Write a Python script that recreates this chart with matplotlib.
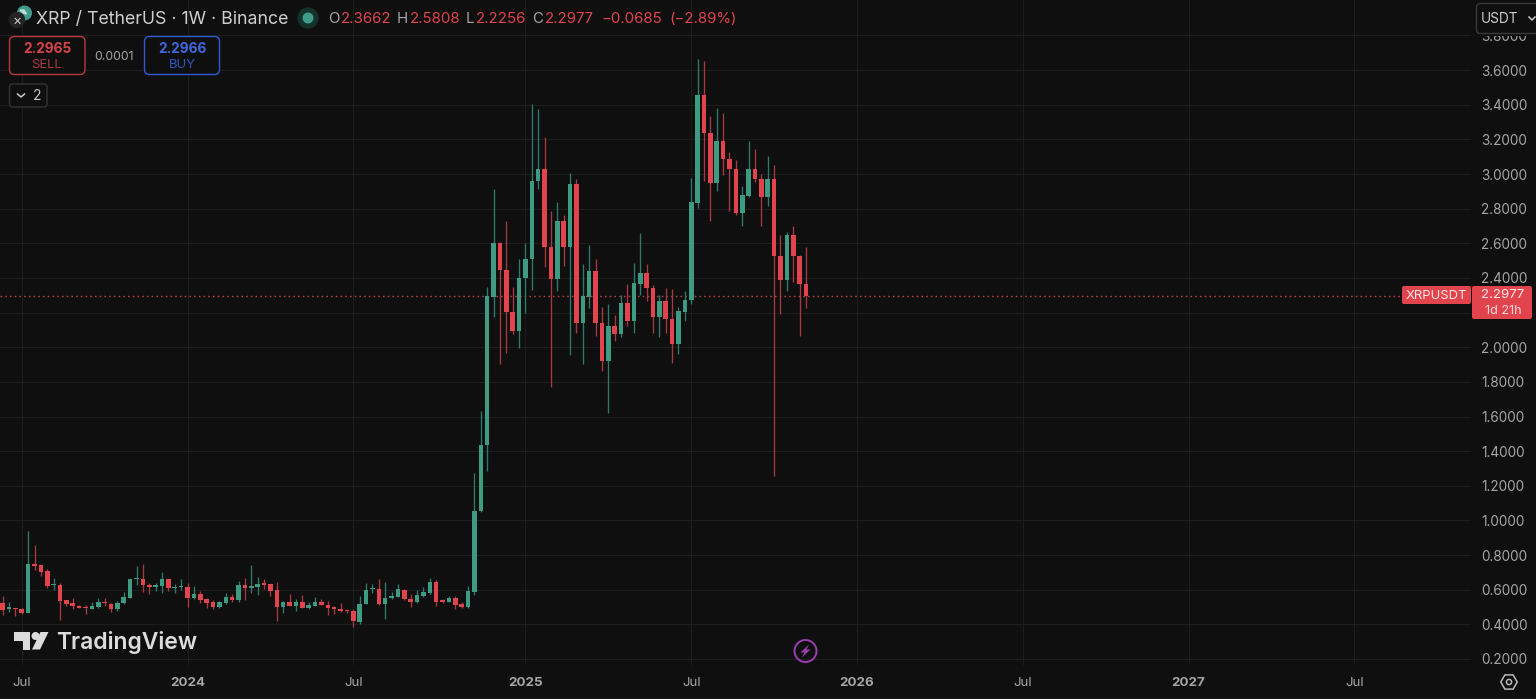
import matplotlib
matplotlib.use("Agg")
import matplotlib.pyplot as plt
import matplotlib.dates as mdates
from matplotlib.patches import Circle, FancyBboxPatch, Polygon, Rectangle, RegularPolygon
import numpy as np
import pandas as pd

plt.rcParams['font.family'] = ['Inter', 'DejaVu Sans']

# weekly candles, XRP / USDT
opens = [0.525, 0.489, 0.494, 0.489, 0.468, 0.748, 0.741, 0.708, 0.625, 0.627,
         0.539, 0.523, 0.506, 0.502, 0.489, 0.498, 0.529, 0.519, 0.487, 0.521,
         0.554, 0.662, 0.662, 0.627, 0.616, 0.621, 0.662, 0.608, 0.614, 0.616,
         0.550, 0.577, 0.546, 0.529, 0.500, 0.523, 0.556, 0.539, 0.625, 0.610,
         0.618, 0.637, 0.631, 0.598, 0.500, 0.527, 0.508, 0.529, 0.496, 0.506,
         0.529, 0.512, 0.502, 0.491, 0.481, 0.477, 0.416, 0.518, 0.602, 0.602,
         0.519, 0.550, 0.560, 0.600, 0.546, 0.527, 0.564, 0.583, 0.645, 0.539,
         0.531, 0.552, 0.518, 0.498, 0.589, 1.054, 1.436, 2.292, 2.604, 2.446,
         2.201, 2.095, 2.400, 2.507, 2.962, 3.027, 2.580, 2.392, 2.731, 2.577,
         2.942, 2.138, 2.292, 2.440, 2.138, 1.922, 2.122, 2.076, 2.253, 2.153,
         2.365, 2.430, 2.344, 2.176, 2.267, 2.165, 2.018, 2.203, 2.273, 2.835,
         3.456, 3.239, 2.946, 3.189, 3.087, 3.027, 2.777, 2.875, 3.029, 2.969,
         2.867, 2.971, 2.529, 2.388, 2.648, 2.527, 2.3662]
highs = [0.566, 0.527, 0.496, 0.493, 0.937, 0.858, 0.743, 0.720, 0.666, 0.637,
         0.541, 0.550, 0.512, 0.512, 0.527, 0.550, 0.550, 0.521, 0.533, 0.585,
         0.662, 0.735, 0.750, 0.639, 0.637, 0.700, 0.664, 0.633, 0.662, 0.639,
         0.623, 0.591, 0.550, 0.541, 0.533, 0.579, 0.575, 0.650, 0.670, 0.743,
         0.671, 0.662, 0.633, 0.643, 0.537, 0.575, 0.544, 0.569, 0.529, 0.556,
         0.544, 0.533, 0.506, 0.523, 0.483, 0.491, 0.566, 0.639, 0.633, 0.660,
         0.643, 0.585, 0.633, 0.602, 0.575, 0.600, 0.614, 0.666, 0.656, 0.546,
         0.566, 0.562, 0.529, 0.621, 1.272, 1.632, 2.350, 2.911, 2.610, 2.729,
         2.350, 2.509, 2.604, 3.404, 3.373, 3.216, 2.788, 2.838, 2.763, 3.004,
         2.969, 2.478, 2.590, 2.509, 2.234, 2.249, 2.186, 2.301, 2.365, 2.488,
         2.659, 2.480, 2.359, 2.301, 2.342, 2.336, 2.232, 2.326, 2.975, 3.664,
         3.651, 3.335, 3.383, 3.354, 3.129, 3.081, 2.931, 3.189, 3.142, 2.998,
         3.102, 3.052, 2.648, 2.663, 2.700, 2.532, 2.5808]
lows = [0.456, 0.473, 0.450, 0.460, 0.464, 0.714, 0.679, 0.610, 0.598, 0.425,
        0.506, 0.487, 0.493, 0.460, 0.487, 0.493, 0.506, 0.473, 0.479, 0.518,
        0.550, 0.629, 0.587, 0.573, 0.595, 0.583, 0.593, 0.581, 0.598, 0.500,
        0.546, 0.525, 0.496, 0.487, 0.496, 0.518, 0.527, 0.531, 0.541, 0.583,
        0.569, 0.604, 0.564, 0.421, 0.468, 0.506, 0.479, 0.494, 0.487, 0.504,
        0.510, 0.454, 0.460, 0.473, 0.464, 0.383, 0.402, 0.516, 0.581, 0.512,
        0.433, 0.548, 0.556, 0.543, 0.502, 0.523, 0.558, 0.575, 0.506, 0.523,
        0.529, 0.487, 0.494, 0.496, 0.570, 1.050, 1.287, 2.176, 1.903, 1.965,
        2.074, 1.997, 2.199, 2.330, 2.913, 2.465, 1.772, 2.324, 2.471, 1.955,
        2.084, 1.903, 2.224, 2.065, 1.863, 1.618, 2.038, 2.061, 2.122, 2.080,
        2.301, 2.269, 2.080, 2.061, 2.084, 1.911, 1.963, 2.151, 2.249, 2.806,
        2.962, 2.729, 2.904, 2.994, 2.786, 2.761, 2.700, 2.867, 2.954, 2.700,
        2.815, 1.257, 2.192, 2.326, 2.378, 2.067, 2.2256]
closes = [0.483, 0.498, 0.489, 0.464, 0.748, 0.739, 0.704, 0.620, 0.633, 0.537,
          0.518, 0.506, 0.496, 0.496, 0.504, 0.527, 0.523, 0.487, 0.523, 0.558,
          0.660, 0.668, 0.625, 0.616, 0.625, 0.662, 0.610, 0.616, 0.621, 0.552,
          0.577, 0.543, 0.525, 0.500, 0.527, 0.556, 0.539, 0.627, 0.610, 0.620,
          0.633, 0.629, 0.593, 0.500, 0.529, 0.508, 0.531, 0.496, 0.510, 0.529,
          0.512, 0.496, 0.489, 0.477, 0.477, 0.417, 0.519, 0.600, 0.610, 0.519,
          0.552, 0.562, 0.602, 0.544, 0.527, 0.569, 0.587, 0.645, 0.531, 0.531,
          0.552, 0.512, 0.498, 0.591, 1.054, 1.436, 2.296, 2.604, 2.446, 2.201,
          2.095, 2.400, 2.507, 2.962, 3.027, 2.580, 2.392, 2.731, 2.577, 2.942,
          2.138, 2.296, 2.440, 2.138, 1.922, 2.122, 2.076, 2.253, 2.153, 2.369,
          2.430, 2.342, 2.176, 2.267, 2.165, 2.018, 2.207, 2.273, 2.838, 3.456,
          3.239, 2.946, 3.189, 3.087, 3.027, 2.773, 2.879, 3.029, 2.969, 2.867,
          2.971, 2.529, 2.388, 2.648, 2.527, 2.365, 2.2977]

last_week = '2025-11-10'
price_ticks = [0.2, 0.4, 0.6, 0.8, 1.0, 1.2, 1.4, 1.6, 1.8, 2.0,
               2.2, 2.4, 2.6, 2.8, 3.0, 3.2, 3.4, 3.6, 3.8]
date_ticks = ['2023-07-03', '2024-01-01', '2024-07-01', '2025-01-06', '2025-07-07',
              '2026-01-05', '2026-07-06', '2027-01-04', '2027-07-05']
date_labels = ['Jul', '2024', 'Jul', '2025', 'Jul', '2026', 'Jul', '2027', 'Jul']

BG = '#0f0f0f'
GRID = '#1c1d1d'
GREEN = '#3f9a82'
GREEN_WICK = '#2f7a68'
RED = '#e2444e'
RED_WICK = '#a63a41'
LABEL = '#a6a6a6'
TITLE = '#cfcfcf'

W, H = 1536, 699
fig = plt.figure(figsize=(W / 100, H / 100), dpi=100, facecolor=BG)

# main chart, pixel box 0..1471 x 0..665
ax = fig.add_axes([0, (H - 665) / H, 1471 / W, 665 / H], facecolor=BG)

weeks = pd.date_range(end=last_week, periods=len(closes), freq='7D')
o = np.array(opens)
c = np.array(closes)
up = c >= o
body_colors = [GREEN if u else RED for u in up]
wick_colors = [GREEN_WICK if u else RED_WICK for u in up]

ax.vlines(weeks, lows, highs, colors=wick_colors, linewidth=0.95, zorder=3)
ax.bar(weeks, np.abs(c - o), bottom=np.minimum(o, c), width=5.0,
       color=body_colors, linewidth=0, zorder=4)

ax.axhline(closes[-1], color='#b33e45', linewidth=1.0, linestyle=(0, (1.2, 2.2)), zorder=2)

# scale: 173.2 px per 1.0 of price, 6.376 px per week
px_per_day = 6.376 / 7
last_num = mdates.date2num(pd.Timestamp(last_week))
ax.set_xlim(last_num - 806 / px_per_day, last_num + (1471 - 806) / px_per_day)
ax.set_ylim(0.2 - 6 / 173.2, 0.2 + 659 / 173.2)

ax.set_yticks(price_ticks)
# 2.2 sits under the last price tag, no label there
ax.set_yticklabels(['' if p == 2.2 else f'{p:.4f}' for p in price_ticks])
ax.yaxis.tick_right()
ax.tick_params(axis='y', length=0, pad=7.5, labelsize=9.8, labelcolor=LABEL)
ax.set_xticks(pd.to_datetime(date_ticks))
ax.set_xticklabels(date_labels)
ax.tick_params(axis='x', length=0, pad=9, labelsize=9.6, labelcolor=LABEL)
for lab in ax.get_xticklabels():
    if lab.get_text() != 'Jul':
        lab.set_fontweight('bold')
ax.grid(True, color=GRID, linewidth=0.8, zorder=0)
ax.set_axisbelow(True)
for s in ax.spines.values():
    s.set_visible(False)

# overlay in picture pixels for the toolbar bits
ui = fig.add_axes([0, 0, 1, 1], facecolor='none')
ui.set_xlim(0, W)
ui.set_ylim(H, 0)
ui.axis('off')


def rbox(x0, y0, x1, y1, edge, fill=BG, lw=1.0, r=5):
    ui.add_patch(FancyBboxPatch((x0 + r, y0 + r), x1 - x0 - 2 * r, y1 - y0 - 2 * r,
                                boxstyle=f'round,pad={r},rounding_size={r}',
                                edgecolor=edge, facecolor=fill, linewidth=lw))


# header
ui.add_patch(Circle((24.5, 13), 6.8, color='#3f9c8a'))
ui.add_patch(Polygon([(20, 10), (24, 10), (26.5, 14), (23, 13)], color='#bcd9d2'))
ui.add_patch(Circle((17, 20), 7.5, color='#232323'))
ui.text(17, 21, '×', color='#c8c8c8', fontsize=10, ha='center', va='center')
ui.text(36, 19.5, 'XRP / TetherUS · 1W · Binance', color=TITLE, fontsize=12.75, va='center')
ui.add_patch(Circle((308, 18), 10, color='#14312b'))
ui.add_patch(Circle((308, 18), 4.8, color='#3f9c8a'))
header = [(328, 'O', LABEL), (341, '2.3662', RED), (397, 'H', LABEL), (410, '2.5808', RED),
          (466, 'L', LABEL), (476, '2.2256', RED), (532, 'C', LABEL), (545, '2.2977', RED),
          (601, '−0.0685', RED), (669, '(−2.89%)', RED)]
for hx, txt, col in header:
    ui.text(hx, 19, txt, color=col, fontsize=10.8, va='center')

# sell / buy
rbox(9.5, 36.5, 85, 74.5, '#b8383f')
ui.text(47, 49, '2.2965', color='#d8434b', fontsize=9.8, fontweight='bold', ha='center', va='center')
ui.text(47, 65, 'SELL', color='#a93a40', fontsize=9.4, ha='center', va='center')
ui.text(114, 57, '0.0001', color=LABEL, fontsize=8.8, ha='center', va='center')
rbox(144.5, 36.5, 219.5, 74.5, '#3059cf')
ui.text(182, 49, '2.2966', color='#3f68e0', fontsize=9.8, fontweight='bold', ha='center', va='center')
ui.text(182, 65, 'BUY', color='#2f55c0', fontsize=9.4, ha='center', va='center')
rbox(9.5, 84, 47, 107, '#333333', r=3)
ui.plot([17.5, 21, 24.5], [94, 97, 94], color='#c8c8c8', linewidth=1.1)
ui.text(37, 96.5, '2', color='#c8c8c8', fontsize=10, ha='center', va='center')

# currency box covers the top scale label
ui.add_patch(Rectangle((1472, 0), 64, 36, color=BG, linewidth=0))
rbox(1476.5, 3.5, 1545, 33.5, '#3a3a3a', r=4)
ui.text(1481, 19, 'USDT', color=TITLE, fontsize=9.8, va='center')
ui.plot([1529, 1532, 1535], [17, 20, 17], color='#c8c8c8', linewidth=1.1)

# last price tags
ui.add_patch(FancyBboxPatch((1404, 288), 65, 14, boxstyle='round,pad=2,rounding_size=2',
                            facecolor='#e2444e', edgecolor='none'))
ui.text(1436.5, 296, 'XRPUSDT', color='#f3e6e6', fontsize=9.4, ha='center', va='center')
ui.add_patch(FancyBboxPatch((1474, 288), 56, 29, boxstyle='round,pad=2,rounding_size=2',
                            facecolor='#e2444e', edgecolor='none'))
ui.text(1503, 295.5, '2.2977', color='#f5e9e9', fontsize=9.6, ha='center', va='center')
ui.text(1503, 311.5, '1d 21h', color='#f3d9da', fontsize=9.0, ha='center', va='center')

# TradingView mark
ui.add_patch(Polygon([(13.5, 632), (30, 632), (30, 649.5), (22.5, 649.5), (22.5, 640.5), (13.5, 640.5)],
                     color='#dcdcdc', linewidth=0))
ui.add_patch(Circle((35.5, 636), 4, color='#dcdcdc', linewidth=0))
ui.add_patch(Polygon([(40.5, 632), (48.5, 632), (40, 649.5), (32, 649.5)], color='#dcdcdc', linewidth=0))
ui.text(56, 643, 'TradingView', color='#dcdcdc', fontsize=16.5, fontweight='semibold', va='center')

# lightning badge
ui.add_patch(Circle((805.5, 651), 11, facecolor='none', edgecolor='#9a3fb0', linewidth=1.4))
ui.add_patch(Polygon([(809, 644.5), (800.5, 652.5), (804.5, 652.5), (802, 657.5), (810.5, 649.5), (806.5, 649.5)],
                     color='#9a3fb0', linewidth=0))

# settings hexagon
ui.add_patch(RegularPolygon((1509, 682), 6, radius=8.2, orientation=np.pi / 6,
                            facecolor='none', edgecolor='#b8b8b8', linewidth=1.1))
ui.add_patch(Circle((1509, 682), 2.6, facecolor='none', edgecolor='#b8b8b8', linewidth=1.1))

ui.plot([0, W], [698.5, 698.5], color='#3a3a3a', linewidth=1)

fig.savefig('out.png', dpi=100, facecolor=BG)
